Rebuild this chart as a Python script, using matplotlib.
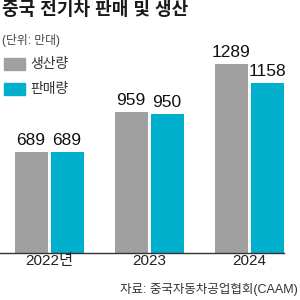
import matplotlib.pyplot as plt
import numpy as np

plt.rcParams['font.family'] = ['Liberation Sans', 'Noto Sans CJK KR', 'DejaVu Sans']

# data
years = ['2022년', '2023', '2024']
production = [689, 959, 1289]
sales = [689, 950, 1158]
series_names = ['생산량', '판매량']
title = '중국 전기차 판매 및 생산'
unit = '(단위: 만대)'
source = '자료: 중국자동차공업협회(CAAM)'

gray = '#a0a0a0'
cyan = '#00afcb'

fig = plt.figure(figsize=(3, 3), dpi=100)
ax = fig.add_axes([0, 47 / 300, 1, 253 / 300])

x = np.arange(len(years))
w = 0.33
off = 0.18
b1 = ax.bar(x - off, production, w, color=gray)
b2 = ax.bar(x + off, sales, w, color=cyan)

for bars, vals in [(b1, production), (b2, sales)]:
    for r, v in zip(bars, vals):
        ax.annotate(f'{v}', (r.get_x() + r.get_width() / 2, v), xytext=(0, 3),
                    textcoords='offset points', ha='center', va='bottom',
                    fontsize=12.5, color='#111111')

ax.set_xlim(-0.49, 2.51)
ax.set_ylim(0, 1726)
ax.axhline(0, xmin=0, xmax=284 / 300, color='#333333', lw=1, clip_on=False)
for s in ax.spines.values():
    s.set_visible(False)
ax.set_xticks([])
ax.set_yticks([])

# year labels
for xi, lab in zip(x, years):
    ax.text(xi, -9, lab, ha='center', va='top', fontsize=11, color='#222222')

# title, unit, legend
fig.text(2 / 300, 1 - 2 / 300, title, ha='left', va='top', fontsize=13,
         fontweight='bold', color='#1a1a1a')
fig.text(2 / 300, 1 - 34 / 300, unit, ha='left', va='top', fontsize=8.5, color='#444444')

for i, (name, c) in enumerate(zip(series_names, [gray, cyan])):
    y0 = 58 + i * 25
    fig.patches.append(plt.Rectangle((4 / 300, 1 - (y0 + 12) / 300), 21 / 300, 12 / 300,
                                     transform=fig.transFigure, color=c))
    fig.text(30 / 300, 1 - (y0 + 6) / 300, name, ha='left', va='center',
             fontsize=10, color='#333333')

fig.text(298 / 300, 1 - 289 / 300, source, ha='right', va='center', fontsize=9, color='#333333')

fig.savefig('out.png', dpi=100)
